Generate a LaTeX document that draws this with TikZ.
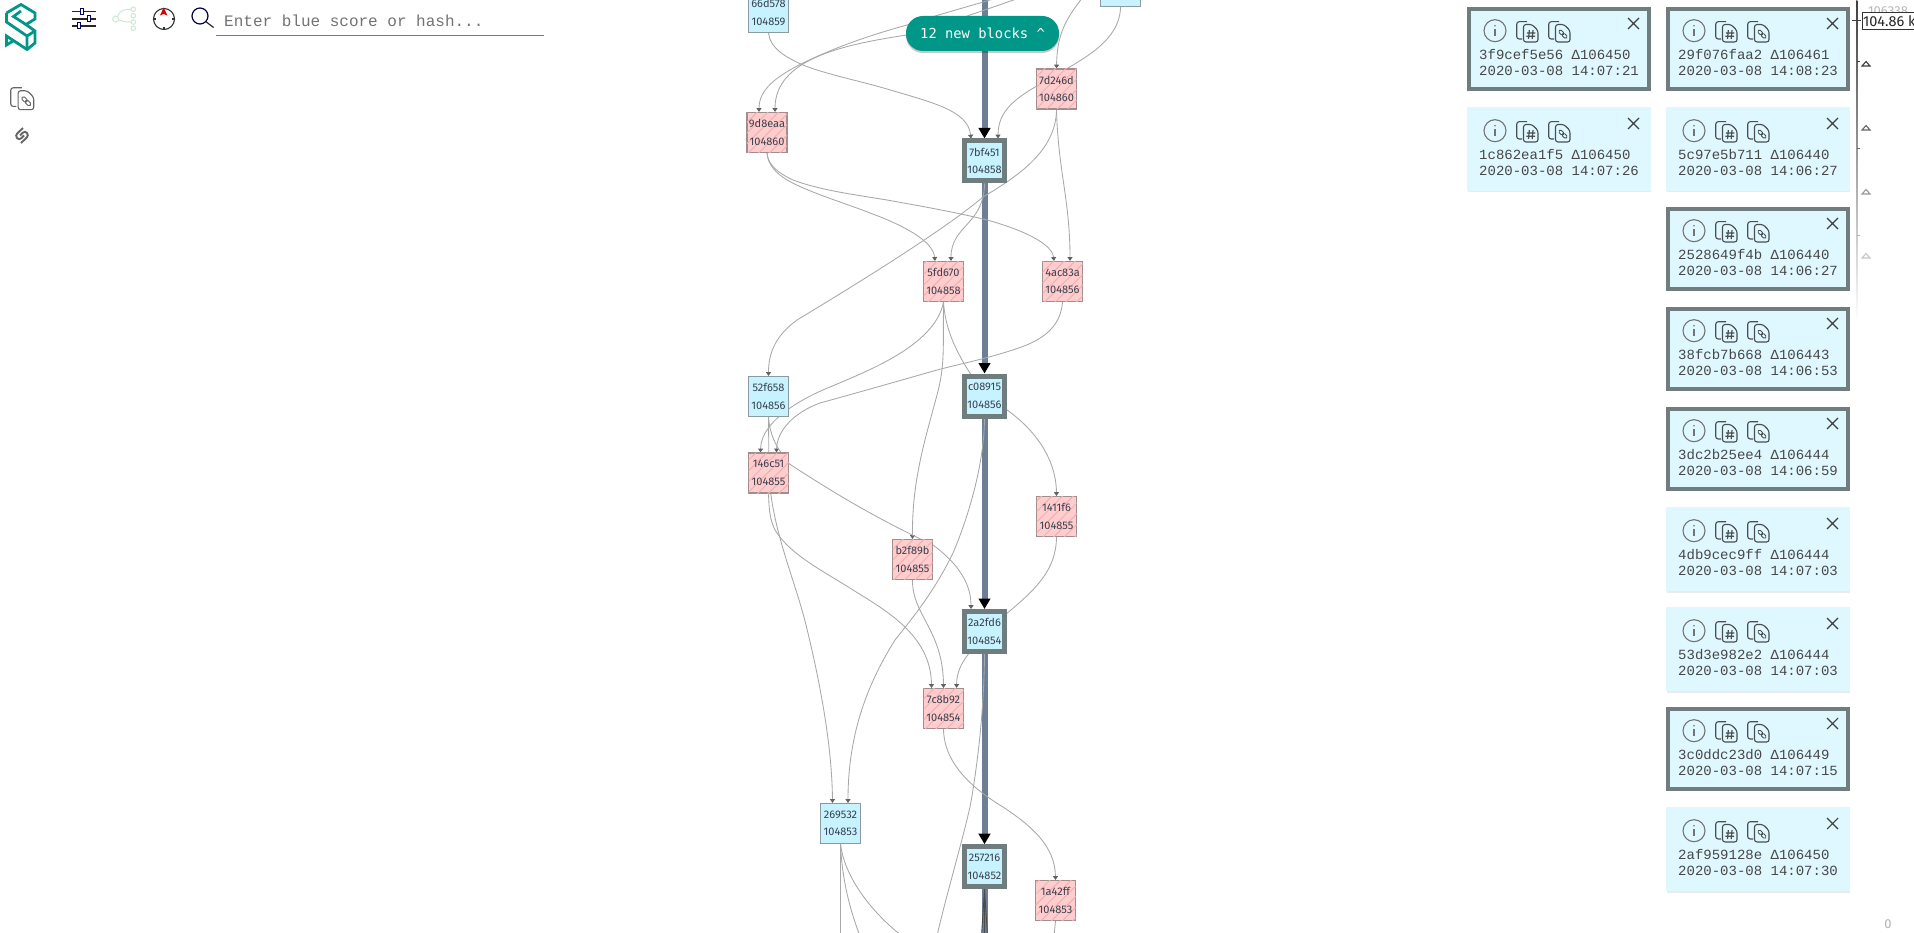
\documentclass[tikz,border=0pt]{standalone}
\usepackage{fontspec}
\setmainfont{Fira Sans}
\newfontfamily\monof{Liberation Mono}
\newfontfamily\pillf{DejaVu Sans Mono}
\usetikzlibrary{arrows.meta,calc,shadows,patterns.meta,backgrounds}
\definecolor{blkfill}{HTML}{C6F3FF}
\definecolor{blkline}{HTML}{8A9A9E}
\definecolor{redfill}{HTML}{FFCDCD}
\definecolor{redline}{HTML}{A08E8E}
\definecolor{hatchc}{HTML}{F2B0B0}
\definecolor{thickc}{HTML}{6F7D7E}
\definecolor{chainc}{HTML}{6C7F96}
\definecolor{linkc}{HTML}{A8A8A8}
\definecolor{tealc}{HTML}{009688}
\definecolor{cardfill}{HTML}{DFF8FF}
\definecolor{iconc}{HTML}{4A4F50}
\definecolor{labelc}{HTML}{39404E}
\definecolor{palegreen}{HTML}{CFE8D5}
\tikzset{
  blockbase/.style={rectangle,minimum size=40pt,inner sep=0pt,align=center,text=labelc,
    font=\fontsize{11}{17.5}\selectfont},
  blueblock/.style={blockbase,draw=blkline,line width=1.2pt,fill=blkfill},
  redblock/.style={blockbase,draw=redline,line width=1.2pt,fill=redfill,
    postaction={pattern={Lines[angle=45,distance=7.5pt,line width=1pt]},pattern color=hatchc}},
  chainblock/.style={blockbase,draw=thickc,line width=5pt,fill=blkfill},
  linkline/.style={draw=linkc,line width=.85pt},
  linkarr/.style={linkline,-{Triangle[width=5pt,length=3.8pt,color=black!62]}},
  chainl/.style={draw=chainc,line width=6pt,-{Triangle[width=11.5pt,length=10.5pt,color=black]}},
  chainplain/.style={draw=chainc,line width=6pt},
  cardthick/.style={rectangle,draw=thickc,line width=4pt,fill=cardfill,minimum width=179.5pt,minimum height=80pt,inner sep=0pt,
    drop shadow={shadow xshift=.5pt,shadow yshift=-1.5pt,opacity=.12,fill=black}},
  cardplain/.style={rectangle,fill=cardfill,minimum width=183.5pt,minimum height=84pt,inner sep=0pt,
    drop shadow={shadow xshift=.5pt,shadow yshift=-1.5pt,opacity=.08,fill=black}},
  cardtext/.style={anchor=west,align=left,inner sep=0pt,text=black!72,font=\monof\fontsize{14}{16.4}\selectfont},
  iconl/.style={draw=iconc,line width=1.1pt},
  logol/.style={draw=tealc,line width=2.8pt,line join=miter},
}
% document icon: #1 = position, #2 = drawn symbol
\newcommand{\docicon}[2]{%
  \begin{scope}[shift={(#1)}]
    \draw[iconl,rounded corners=2.5pt] (11,.7) -- (.7,.7) -- (.7,18) -- (6,18);
    \draw[iconl,rounded corners=2.5pt] (7.5,3.5) -- (16,3.5) -- (22,9.5) -- (22,21) -- (7.5,21) -- cycle;
    #2
  \end{scope}}
\newcommand{\hashsym}{%
  \draw[draw=iconc,line width=1.2pt] (13.3,9) -- (12.5,18) (17,9) -- (16.2,18) (10.8,12) -- (19.4,12) (10.4,15.2) -- (19,15.2);}
\newcommand{\linksym}{%
  \begin{scope}[shift={(15,13.2)},rotate=-45]
    \draw[draw=iconc,line width=.9pt,rounded corners=1.5pt] (-5.2,-1.6) rectangle (.6,1.6);
    \draw[draw=iconc,line width=.9pt,rounded corners=1.5pt] (-.6,-1.6) rectangle (5.2,1.6);
  \end{scope}}
% card: #1 id, #2 position, #3 style, #4 first line, #5 second line
\newcommand{\infocard}[5]{%
  \begin{scope}[shift={(#2)}]
    \node[#3] (#1) at (91.75,42) {};
    \node[cardtext] (#1-t) at (12,55.5) {#4\\#5};
    \draw[iconl,draw=black!55] (28,23.7) circle (11);
    \draw[draw=black!55,line width=1.2pt] (28,22) -- (28,29);
    \fill[black!55] (28,18.8) circle (.9);
    \docicon{49,14}{\hashsym}
    \docicon{81,14}{\linksym}
    \draw[draw=black!75,line width=1.1pt] (161,11) -- (172,22) (172,11) -- (161,22);
  \end{scope}}
\begin{document}
\begin{tikzpicture}[x=1pt,y=-1pt]
\useasboundingbox (0,0) rectangle (1914,933);
\clip (0,0) rectangle (1914,933);

% free ends beyond the page
\coordinate (chaintop) at (984.5,-20);
\coordinate (chainend) at (984.5,950);
\coordinate (freeA) at (1000,-3);
\coordinate (freeB) at (1022,-3);
\coordinate (freeC) at (1083,-3);
\coordinate (freeD) at (937,936);
\coordinate (freeE) at (840.5,936);
\coordinate (freeF) at (860,936);
\coordinate (freeG) at (902,936);
\coordinate (freeH) at (1054,936);
\coordinate (freeI) at (981.5,936);
\coordinate (freeJ) at (984.5,936);
\coordinate (freeK) at (987.5,936);

% blocks
\node[blueblock] (n66d578) at (768.5,12.5) {66d578\\104859};
\node[blueblock] (ntop) at (1120.5,-13.5) {};
\node[redblock] (n9d8eaa) at (767,132.5) {9d8eaa\\104860};
\node[redblock] (n7d246d) at (1056.5,89) {7d246d\\104860};
\node[chainblock] (n7bf451) at (984.5,161) {7bf451\\104858};
\node[redblock] (n5fd670) at (943.5,281.5) {5fd670\\104858};
\node[redblock] (n4ac83a) at (1062.5,281.5) {4ac83a\\104856};
\node[blueblock] (n52f658) at (768.5,396.5) {52f658\\104856};
\node[chainblock] (nc08915) at (984.5,396) {c08915\\104856};
\node[redblock] (n146c51) at (768.5,473) {146c51\\104855};
\node[redblock] (n1411f6) at (1056.5,516.5) {1411f6\\104855};
\node[redblock] (nb2f89b) at (912.5,559.5) {b2f89b\\104855};
\node[chainblock] (n2a2fd6) at (984.5,631.5) {2a2fd6\\104854};
\node[redblock] (n7c8b92) at (943.5,708.5) {7c8b92\\104854};
\node[blueblock] (n269532) at (840.5,823.5) {269532\\104853};
\node[chainblock] (n257216) at (984.5,866.7) {257216\\104852};
\node[redblock] (n1a42ff) at (1055.5,900.5) {1a42ff\\104853};

\begin{pgfonlayer}{background}
\fill[white] (0,0) rectangle (1914,933);
% main chain
\draw[chainl] (chaintop) -- (n7bf451.north);
\draw[chainl] (n7bf451.south) -- (nc08915.north);
\draw[chainl] (nc08915.south) -- (n2a2fd6.north);
\draw[chainl] (n2a2fd6.south) -- (n257216.north);
\draw[chainplain] (n257216.south) -- (chainend);

% connectors
\draw[linkarr] (n66d578.south) .. controls (770,48) and (785,57) .. (803,65) .. controls (825,74) and (860,81) .. (887,89) .. controls (930,102) and (968,110) .. ([xshift=-13.5pt]n7bf451.north);
\draw[linkarr] (freeA) .. controls (960,9) and (930,17) .. (907,25) .. controls (860,38) and (830,50) .. (803,63) .. controls (775,77) and (759,90) .. ([xshift=-8pt]n9d8eaa.north);
\draw[linkarr] (freeB) .. controls (985,10) and (945,24) .. (907,35) .. controls (840,45) and (775,60) .. ([xshift=8pt]n9d8eaa.north);
\draw[linkarr] (freeC) .. controls (1065,20) and (1057,35) .. (n7d246d.north);
\draw[linkarr] (ntop.south) .. controls (1120,40) and (1085,58) .. (1056,75) .. controls (1025,93) and (998,105) .. ([xshift=13.5pt]n7bf451.north);
\draw[linkarr] (n7d246d.south) .. controls (1058,170) and (1070,200) .. ([xshift=7.5pt]n4ac83a.north);
\draw[linkarr] (n7d246d.south) .. controls (1056,150) and (1020,175) .. (983,197) .. controls (950,225) and (880,270) .. (797,320) .. controls (772,338) and (768.5,358) .. (n52f658.north);
\draw[linkarr] (n7bf451.south) .. controls (984,225) and (951,225) .. ([xshift=7.5pt]n5fd670.north);
\draw[linkarr] (n9d8eaa.south) .. controls (768,165) and (776,173) .. (787,180) .. controls (810,193) and (845,203) .. (870,213) .. controls (900,224) and (933,240) .. ([xshift=-8.5pt]n5fd670.north);
\draw[linkarr] (n9d8eaa.south) .. controls (768,165) and (778,173) .. (793,180) .. controls (820,190) and (850,194) .. (887,200) .. controls (920,206) and (955,212) .. (987,220) .. controls (1020,229) and (1052,243) .. ([xshift=-8.5pt]n4ac83a.north);
\draw[linkarr] (n5fd670.south) .. controls (935,345) and (870,370) .. (830,387) .. controls (805,397) and (761,420) .. ([xshift=-8pt]n146c51.north);
\draw[linkarr] (n5fd670.south) .. controls (943,350) and (945,365) .. (937,395) .. controls (925,440) and (912,480) .. (nb2f89b.north);
\draw[linkline] (n5fd670.south) .. controls (946,340) and (965,365) .. (nc08915.center);
\draw[linkarr] (n4ac83a.south) .. controls (1060,335) and (1030,345) .. (1003,353) .. controls (980,360) and (960,364) .. (937,370) .. controls (895,382) and (860,392) .. (820,403) .. controls (795,412) and (777,430) .. ([xshift=8pt]n146c51.north);
\draw[linkarr] (n52f658.south) .. controls (770,435) and (775,445) .. (788,463) .. controls (840,497) and (880,520) .. (933,545) .. controls (960,565) and (971,585) .. ([xshift=-13.5pt]n2a2fd6.north);
\draw[linkarr] (n52f658.south) -- (769,475) .. controls (772,530) and (795,580) .. (806,625) .. controls (822,690) and (832,750) .. ([xshift=-8pt]n269532.north);
\draw[linkarr] (n146c51.south) .. controls (769,510) and (770,520) .. (775,530) .. controls (790,555) and (825,572) .. (853,590) .. controls (885,610) and (931,635) .. ([xshift=-12pt]n7c8b92.north);
\draw[linkarr] (nc08915.south) .. controls (984,470) and (965,525) .. (953,553) .. controls (935,590) and (915,615) .. (895,640) .. controls (870,680) and (848,730) .. ([xshift=7.5pt]n269532.north);
\draw[linkarr] (nc08915.center) .. controls (1030,420) and (1056,455) .. (n1411f6.north);
\draw[linkline] (n1411f6.south) .. controls (1056,575) and (1030,595) .. (n2a2fd6.center);
\draw[linkarr] (n2a2fd6.center) .. controls (975,650) and (957,660) .. ([xshift=13pt]n7c8b92.north);
\draw[linkarr] (nb2f89b.south) .. controls (912,615) and (943,630) .. (n7c8b92.north);
\draw[linkline] (n2a2fd6.south) .. controls (984,720) and (975,780) .. (970,807) .. controls (960,850) and (945,900) .. (freeD);
\draw[linkarr] (n7c8b92.south) .. controls (944,765) and (975,790) .. (1003,807) .. controls (1030,825) and (1055,845) .. (n1a42ff.north);
\draw[linkline] (n269532.south) -- (freeE);
\draw[linkline] (n269532.south) .. controls (842,880) and (850,910) .. (freeF);
\draw[linkline] (n269532.south) .. controls (845,880) and (875,915) .. (freeG);
\draw[linkline] (n1a42ff.south) -- (freeH);
\draw[draw=black!70,line width=.9pt] (n257216.south) -- (freeI);
\draw[draw=black!70,line width=.9pt] (n257216.south) -- (freeJ);
\draw[draw=black!70,line width=.9pt] (n257216.south) -- (freeK);
\end{pgfonlayer}

% pill
\node[rectangle,rounded corners=17pt,fill=tealc,minimum width=153pt,minimum height=35pt,inner sep=0pt,text=white,
  font=\pillf\fontsize{13.8}{16}\selectfont,
  drop shadow={shadow xshift=0pt,shadow yshift=-2pt,opacity=.22,fill=black}] (pill) at (982.5,33.5) {12 new blocks \textasciicircum};

% logo
\draw[logol] (6.5,13) -- (21,4.5) -- (35,13) -- (35,19) -- (26,24.5) -- (35,31) -- (35,43) -- (27,49.5) -- (6.5,36) -- (6.5,45) -- (14,40.5);
\draw[logol] (6.5,13) -- (6.5,22) -- (27,36) -- (27,49.5);
\draw[logol] (27,36) -- (35,31);
\draw[logol] (21,11) -- (13.5,16.5) -- (26,24.5);

% toolbar: sliders
\draw[draw=black!85,line width=1.2pt] (72,11.7) -- (96,11.7) (72,19) -- (96,19) (72,26) -- (96,26);
\draw[draw=blue!40!black,fill=white,line width=1pt] (80.5,9) rectangle (83.5,15);
\draw[draw=blue!40!black,fill=white,line width=1pt] (87.5,16) rectangle (90.5,22);
\draw[draw=blue!40!black,fill=white,line width=1pt] (77.5,23) rectangle (80.5,29);
% toolbar: graph icon
\begin{scope}[line width=1pt]
  \draw[draw=palegreen] (115.7,19) circle (3);
  \draw[draw=palegreen] (133.3,9.3) circle (2.3) (133.3,15.7) circle (2.3) (133.3,22) circle (2.3) (133.3,28.3) circle (2.3);
  \draw[draw=palegreen] (117.5,16.8) .. controls (120,10) and (124,9.3) .. (131,9.3);
  \draw[draw=palegreen] (118.5,20) .. controls (122,21) and (124,22) .. (131,22);
\end{scope}
% toolbar: compass
\draw[draw=black!80,line width=1.1pt] (164,19) circle (10.5);
\draw[draw=black!80,line width=2pt] (153,19) -- (156,19) (172,19) -- (175,19) (164,27) -- (164,30);
\fill[red!85!black] (160,15.5) -- (163.7,7.5) -- (167.4,15.5) -- (163.7,14) -- cycle;
% toolbar: search
\draw[draw=blue!25!black,line width=1.2pt] (200,16) circle (8);
\draw[draw=black!85,line width=1.2pt] (205.8,21.6) -- (213.6,27.5);
\node[anchor=west,inner sep=0pt,text=black!55,font=\monof\fontsize{16}{18}\selectfont] (searchtext) at (224,20.8) {Enter blue score or hash...};
\draw[draw=black!52,line width=1.1pt] (216,35.4) -- (543.6,35.4);

% side icons
\begin{scope}[shift={(10,87)},scale=1.08]
  \draw[draw=black!60,line width=1.1pt,rounded corners=2.5pt] (11,.7) -- (.7,.7) -- (.7,18) -- (6,18);
  \draw[draw=black!60,line width=1.1pt,rounded corners=2.5pt] (7.5,3.5) -- (16,3.5) -- (22,9.5) -- (22,21) -- (7.5,21) -- cycle;
  \begin{scope}[shift={(15,13.2)},rotate=-45]
    \draw[draw=black!60,line width=.9pt,rounded corners=1.5pt] (-5.2,-1.6) rectangle (.6,1.6);
    \draw[draw=black!60,line width=.9pt,rounded corners=1.5pt] (-.6,-1.6) rectangle (5.2,1.6);
  \end{scope}
\end{scope}
\draw[draw=black!60,line width=1.9pt,rounded corners=3pt] (23,128) -- (15,135.5) -- (19,140.5) -- (24,135.5);
\draw[draw=black!60,line width=1.9pt,rounded corners=3pt] (21,143) -- (29,135.5) -- (25,130.5) -- (20,135.5);

% cards
\infocard{c3f9}{1467,7}{cardthick}{3f9cef5e56 Δ106450}{2020-03-08 14:07:21}
\infocard{c1c8}{1467,107}{cardplain}{1c862ea1f5 Δ106450}{2020-03-08 14:07:26}
\infocard{c29f}{1666,7}{cardthick}{29f076faa2 Δ106461}{2020-03-08 14:08:23}
\infocard{c5c9}{1666,107}{cardplain}{5c97e5b711 Δ106440}{2020-03-08 14:06:27}
\infocard{c252}{1666,207}{cardthick}{2528649f4b Δ106440}{2020-03-08 14:06:27}
\infocard{c38f}{1666,307}{cardthick}{38fcb7b668 Δ106443}{2020-03-08 14:06:53}
\infocard{c3dc}{1666,407}{cardthick}{3dc2b25ee4 Δ106444}{2020-03-08 14:06:59}
\infocard{c4db}{1666,507}{cardplain}{4db9cec9ff Δ106444}{2020-03-08 14:07:03}
\infocard{c53d}{1666,607}{cardplain}{53d3e982e2 Δ106444}{2020-03-08 14:07:03}
\infocard{c3c0}{1666,707}{cardthick}{3c0ddc23d0 Δ106449}{2020-03-08 14:07:15}
\infocard{c2af}{1666,807}{cardplain}{2af959128e Δ106450}{2020-03-08 14:07:30}

% axis
\shade[top color=black!75,bottom color=white] (1856.3,0) rectangle (1857.3,322);
\draw[draw=black!75,line width=1pt] (1857,62) -- (1860,62);
\draw[draw=black!60,line width=1pt] (1857,149) -- (1860,149);
\draw[draw=black!30,line width=1pt] (1857,236) -- (1860,236);
\draw[draw=black!75,line width=1.1pt] (1862,66) -- (1866,61.5) -- (1870,66) -- cycle;
\draw[draw=black!60,line width=1.1pt] (1862,130) -- (1866,125.5) -- (1870,130) -- cycle;
\draw[draw=black!40,line width=1.1pt] (1862,194) -- (1866,189.5) -- (1870,194) -- cycle;
\draw[draw=black!22,line width=1.1pt] (1862,258) -- (1866,253.5) -- (1870,258) -- cycle;
\node[inner sep=0pt,text=black!28,font=\fontsize{13}{15}\selectfont] (axistop) at (1888,11.5) {106338};
\draw[draw=black!75,line width=1pt] (1852,20.7) -- (1861,20.7);
\node[rectangle,draw=black!80,fill=white,line width=1pt,anchor=west,minimum height=17pt,inner sep=1pt,text=black!85,
  font=\fontsize{14.5}{16}\selectfont] (axislabel) at (1861.5,20.7) {104.86 k};
\node[inner sep=0pt,text=black!30,font=\fontsize{13}{15}\selectfont] (zero) at (1888,924) {0};
\end{tikzpicture}
\end{document}
